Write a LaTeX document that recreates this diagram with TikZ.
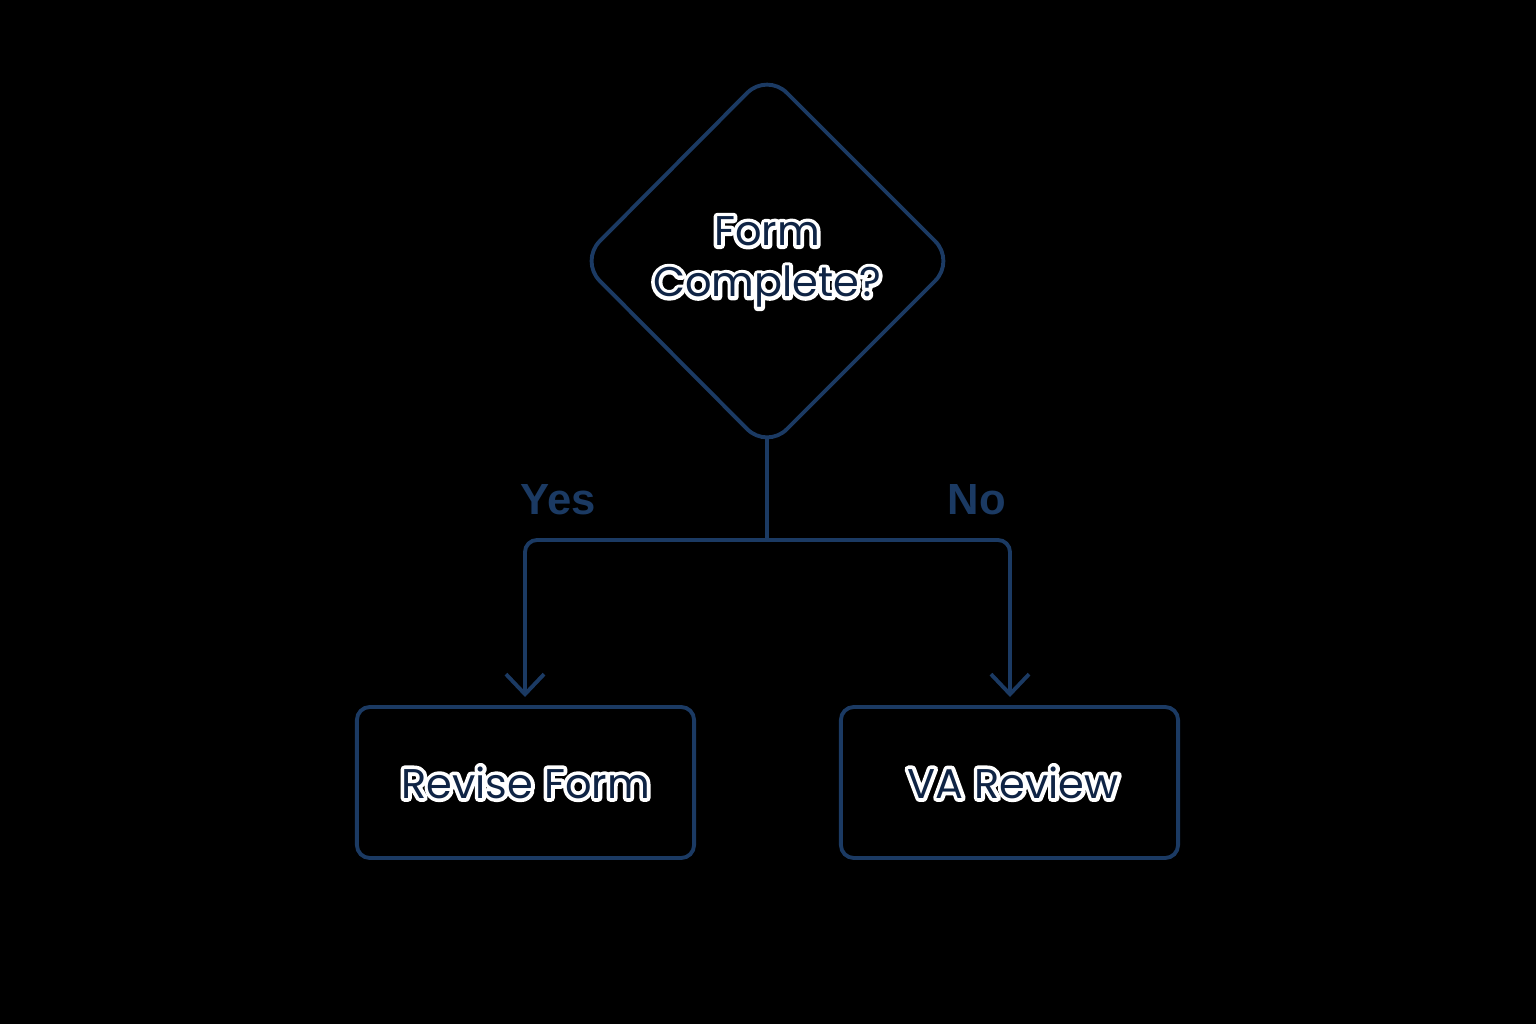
\documentclass[tikz,border=0pt]{standalone}
\usepackage{fontspec}
\setmainfont{Poppins}
\newfontfamily\labelfont{Liberation Sans}
\usetikzlibrary{arrows.meta}
\definecolor{linenavy}{HTML}{1B3A63}
\definecolor{textnavy}{HTML}{0F2445}
% white halo: one stroked copy underneath, filled copy on top
\newcommand{\halotext}[1]{\leavevmode\rlap{\color{white}\special{pdf:code 1 Tr 2.1 w 1 J 1 j}#1\special{pdf:code 0 Tr 1 w}}#1}
\tikzset{
  shapeline/.style={draw=linenavy, line width=1.1pt, rounded corners=0.15cm},
  conn/.style={draw=linenavy, line width=1.1pt},
  boxtext/.style={text=textnavy, font=\fontsize{11.8}{14.6}\selectfont, align=center},
  branch/.style={text=linenavy, font=\labelfont\bfseries\fontsize{12.4}{15}\selectfont},
}
\begin{document}
\begin{tikzpicture}[x=0.01cm,y=-0.01cm]
\fill[black] (0,0) rectangle (1536,1024);
\useasboundingbox (0,0) rectangle (1536,1024);
% decision diamond
\coordinate (dtop) at (767,73);
\coordinate (dbot) at (767,449);
\coordinate (dl) at (580,261);
\coordinate (dr) at (955,261);
\coordinate (dout) at (767,437);
\draw[shapeline, rounded corners=0.28cm] (dtop) -- (dr) -- (dbot) -- (dl) -- cycle;
\node[boxtext] (q) at (767,262) {\halotext{Form}\\[0pt]\halotext{Complete?}};
% boxes
\node[shapeline, minimum width=3.37cm, minimum height=1.51cm, rounded corners=0.13cm] (rev) at (525.5,782.5) {};
\node[shapeline, minimum width=3.37cm, minimum height=1.51cm, rounded corners=0.13cm] (va) at (1009.5,782.5) {};
\node[boxtext] (revt) at (rev.center) {\halotext{Revise Form}};
\node[boxtext] (vat) at (1013,782.5) {\halotext{VA Review}};
% connectors
\coordinate (split) at (767,540);
\draw[conn] (dout) -- (split);
\draw[conn, rounded corners=0.12cm, -{Straight Barb[length=2mm,width=3.8mm,line width=1.1pt]}]
  (split) -- (525,540) -- (525,697);
\draw[conn, rounded corners=0.12cm, -{Straight Barb[length=2mm,width=3.8mm,line width=1.1pt]}]
  (split) -- (1010,540) -- (1010,697);
% branch labels
\node[branch] (yes) at (558,500) {Yes};
\node[branch] (no) at (977,500) {No};
\end{tikzpicture}
\end{document}
